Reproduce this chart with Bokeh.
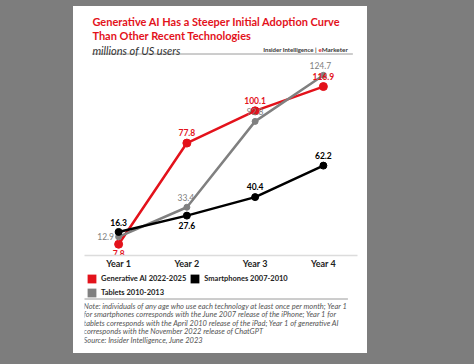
from bokeh.plotting import figure
from bokeh.layouts import column
from bokeh.models import Range1d, Label, Legend, LegendItem, ColumnDataSource, FixedTicker
from bokeh.embed import file_html
from bokeh.resources import INLINE
from bokeh.core.properties import value

# ---- data ----
years = [1, 2, 3, 4]
year_labels = ["Year 1", "Year 2", "Year 3", "Year 4"]
genai = [7.8, 77.8, 100.1, 116.9]
smartphones = [16.3, 27.6, 40.4, 62.2]
tablets = [12.9, 33.4, 92.8, 124.7]
series_names = ["Generative AI 2022-2025", "Smartphones 2007-2010", "Tablets 2010-2013"]

title_lines = ["Generative AI Has a Steeper Initial Adoption Curve", "Than Other Recent Technologies"]
subtitle = "millions of US users"
notes = ["Note: individuals of any age who use each technology at least once per month; Year 1",
         "for smartphones corresponds with the June 2007 release of the iPhone; Year 1 for",
         "tablets corresponds with the April 2010 release of the iPad; Year 1 of generative AI",
         "corresponds with the November 2022 release of ChatGPT",
         "Source: Insider Intelligence, June 2023"]

# label offsets (px)
genai_xoff = [0, 0, 0, 0]
genai_yoff = [9, -10.5, -10.5, -10]
smart_xoff = [0, 0, 0, 0]
smart_yoff = [-9, 9.5, -10.5, -10.5]
tab_xoff = [-13, -1, 0, -3]
tab_yoff = [0, -10, -10, -10]

RED = "#e3121b"
BLACK = "#000000"
GRAY = "#808080"
FONT = "Lato"
W = 294


def text_panel(height, left=0):
    f = figure(width=W, height=height, x_range=Range1d(left, W), y_range=Range1d(height, 0),
               output_backend="svg", toolbar_location=None, x_axis_location=None, y_axis_location=None,
               min_border=0, min_border_left=left, background_fill_color="white",
               border_fill_color="white")
    f.outline_line_color = None
    f.xgrid.visible = False
    f.ygrid.visible = False
    return f


def lab(f, x, y, text, size, color, style="normal", align="left"):
    f.add_layout(Label(x=x, y=y, text=text, text_font=FONT, text_font_size=size, text_color=color,
                       text_font_style=style, text_align=align, text_baseline="alphabetic"))


# ---- header ----
head = text_panel(50)
lab(head, 8.5, 15.3, title_lines[0], "11px", RED, "bold")
lab(head, 8.5, 28.7, title_lines[1], "11px", RED, "bold")
lab(head, 8.5, 43.7, subtitle, "11px", "#333333", "italic")
lab(head, 250, 43.3, "Insider Intelligence |", "6px", "#333333", "bold", "right")
lab(head, 252, 43.3, "e", "6px", RED, "bold")
lab(head, 255.5, 43.3, "Marketer", "6.3px", "#333333", "bold")
head.segment(x0=[8], y0=[47.5], x1=[289], y1=[47.5], line_color="#9a9a9a", line_width=1)

# ---- main chart ----
p = figure(frame_width=273, frame_height=199, x_range=Range1d(0.5, 4.5), y_range=Range1d(0, 137.7),
           output_backend="svg", toolbar_location=None, y_axis_location=None,
           min_border_left=11, min_border_right=10, min_border_top=0, min_border_bottom=0,
           background_fill_color="white", border_fill_color="white")
p.outline_line_color = None
p.xgrid.visible = False
p.ygrid.visible = False

ax = p.xaxis[0]
ax.ticker = FixedTicker(ticks=years)
ax.major_label_overrides = {y: l for y, l in zip(years, year_labels)}
ax.axis_line_color = "#dcdcdc"
ax.axis_line_width = 1.5
ax.major_tick_line_color = None
ax.minor_tick_line_color = None
ax.major_tick_out = 0
ax.major_tick_in = 0
ax.major_label_standoff = 2
ax.major_label_text_font = FONT
ax.major_label_text_font_style = "bold"
ax.major_label_text_font_size = "9px"
ax.major_label_text_color = "#222222"

p.line(years, genai, line_color=RED, line_width=2.5)
p.scatter(years, genai, marker="circle", size=8, fill_color=RED, line_color=RED)
p.line(years, tablets, line_color=GRAY, line_width=2.5)
p.scatter(years, tablets, marker="circle", size=6, fill_color=GRAY, line_color=GRAY)
p.line(years, smartphones, line_color=BLACK, line_width=2.5)
p.scatter(years, smartphones, marker="circle", size=7, fill_color=BLACK, line_color=BLACK)


def add_labels(vals, xoff, yoff, color, style):
    src = ColumnDataSource(dict(x=years, y=vals, t=[f"{v:.1f}" for v in vals], xo=xoff, yo=yoff))
    p.text(x="x", y="y", text="t", x_offset="xo", y_offset="yo", source=src,
           text_color=color, text_font=value(FONT), text_font_style=style,
           text_font_size="8.5px", text_align="center", text_baseline="middle")


add_labels(tablets, tab_xoff, tab_yoff, GRAY, "normal")
add_labels(smartphones, smart_xoff, smart_yoff, BLACK, "bold")
add_labels(genai, genai_xoff, genai_yoff, RED, "bold")

# ---- footer: legend + notes ----
foot = text_panel(82, left=9)
sw = []
for vals, col in [(genai, RED), (smartphones, BLACK), (tablets, GRAY)]:
    # hidden renderers that only supply the square legend swatches
    sw.append(foot.quad(left=years, right=years, top=vals, bottom=vals, fill_color=col,
                        line_color=None, visible=False))
legend = Legend(items=[LegendItem(label=n, renderers=[r]) for n, r in zip(series_names, sw)],
                location="top_left", orientation="horizontal", ncols=2,
                glyph_width=11, glyph_height=11, label_standoff=4, spacing=3,
                padding=0, margin=2, border_line_color=None, background_fill_alpha=0,
                inactive_fill_alpha=0,
                label_text_font=FONT, label_text_font_style="bold", label_text_font_size="7.5px",
                label_height=9, label_text_baseline="middle", label_text_color="#222222")
foot.add_layout(legend, "center")
foot.segment(x0=[8], y0=[27.5], x1=[284], y1=[27.5], line_color="#9a9a9a", line_width=1)
for i, t in enumerate(notes):
    lab(foot, 8, 34.5 + 8.6 * i, t, "7.5px", "#555555", "italic")

layout = column(head, p, foot, spacing=0, styles={"background-color": "white"})
layout.margin = (6, 0, 0, 73)

html = file_html(layout, INLINE)
html = html.replace("<head>", "<head><style>html,body{background:#7d7d7d;}</style>", 1)
open("out.html", "w").write(html)
